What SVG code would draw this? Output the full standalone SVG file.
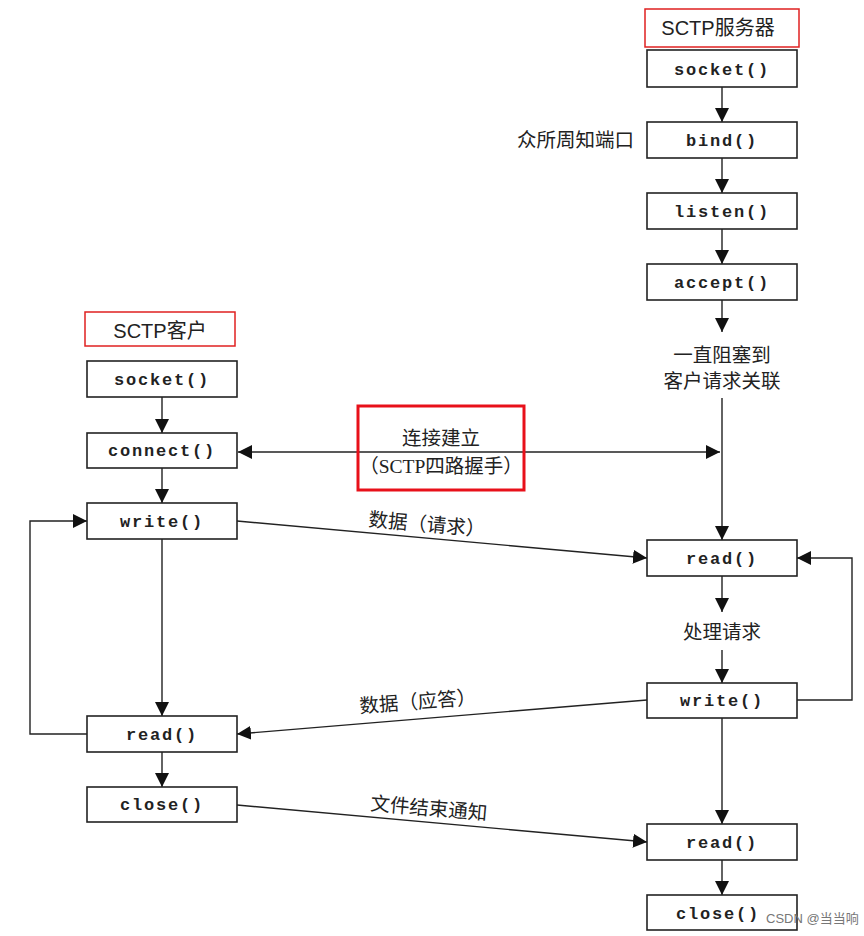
<svg xmlns="http://www.w3.org/2000/svg" width="864" height="936" viewBox="0 0 864 936">
<defs>
<marker id="ah" viewBox="0 0 10 10" refX="10" refY="5" markerWidth="14" markerHeight="14" markerUnits="userSpaceOnUse" orient="auto-start-reverse">
<path d="M0,0 L10,5 L0,10 z" fill="#111"/>
</marker>
</defs>
<style>
.box{fill:#fff;stroke:#222;stroke-width:1.6}
.fn{font-family:"Liberation Mono",monospace;font-weight:bold;font-size:17px;fill:#222;text-anchor:middle;letter-spacing:1.8px}
.hdr{fill:#fff;stroke:#e02020;stroke-width:1.5}
.ht{font-family:"Liberation Sans","Noto Sans CJK SC",sans-serif;font-size:20px;fill:#222;text-anchor:middle}
.cn{font-family:"Liberation Serif","Noto Sans CJK SC",serif;font-size:19.5px;fill:#222}
.ln{fill:none;stroke:#222;stroke-width:1.4}
.wm{font-family:"Liberation Sans","Noto Sans CJK SC",sans-serif;font-size:13px;fill:#777}
</style>
<rect width="864" height="936" fill="#fff"/>

<g id="connectors">
<line class="ln" x1="722" y1="87" x2="722" y2="122" marker-end="url(#ah)"/>
<line class="ln" x1="722" y1="158" x2="722" y2="193" marker-end="url(#ah)"/>
<line class="ln" x1="722" y1="229" x2="722" y2="264" marker-end="url(#ah)"/>
<line class="ln" x1="722" y1="300" x2="722" y2="332" marker-end="url(#ah)"/>
<line class="ln" x1="722" y1="398" x2="722" y2="540" marker-end="url(#ah)"/>
<line class="ln" x1="722" y1="576" x2="722" y2="612" marker-end="url(#ah)"/>
<line class="ln" x1="722" y1="650" x2="722" y2="683" marker-end="url(#ah)"/>
<line class="ln" x1="722" y1="718" x2="722" y2="824" marker-end="url(#ah)"/>
<line class="ln" x1="722" y1="860" x2="722" y2="895" marker-end="url(#ah)"/>
<line class="ln" x1="162" y1="397" x2="162" y2="433" marker-end="url(#ah)"/>
<line class="ln" x1="162" y1="468" x2="162" y2="503" marker-end="url(#ah)"/>
<line class="ln" x1="162" y1="539" x2="162" y2="716" marker-end="url(#ah)"/>
<line class="ln" x1="162" y1="752" x2="162" y2="787" marker-end="url(#ah)"/>
<line class="ln" x1="238" y1="452" x2="720" y2="452" marker-start="url(#ah)" marker-end="url(#ah)"/>
<line class="ln" x1="237" y1="521" x2="647" y2="558" marker-end="url(#ah)"/>
<line class="ln" x1="647" y1="700" x2="237" y2="734" marker-end="url(#ah)"/>
<line class="ln" x1="237" y1="805" x2="647" y2="842" marker-end="url(#ah)"/>
<polyline class="ln" points="87,734 30,734 30,521 87,521" marker-end="url(#ah)"/>
<polyline class="ln" points="797,700 852,700 852,558 797,558" marker-end="url(#ah)"/>
</g>

<g id="server-header"><rect class="hdr" x="645" y="9" width="154" height="38"/><text class="ht" x="718" y="35">SCTP服务器</text></g>
<g id="s-socket"><rect class="box" x="647" y="50" width="150" height="37"/><text class="fn" x="722" y="75">socket()</text></g>
<g id="s-bind"><rect class="box" x="647" y="122" width="150" height="36"/><text class="fn" x="722" y="146">bind()</text></g>
<g id="s-listen"><rect class="box" x="647" y="193" width="150" height="36"/><text class="fn" x="722" y="217">listen()</text></g>
<g id="s-accept"><rect class="box" x="647" y="264" width="150" height="36"/><text class="fn" x="722" y="288">accept()</text></g>
<g id="s-read1"><rect class="box" x="647" y="540" width="150" height="36"/><text class="fn" x="722" y="564">read()</text></g>
<g id="s-write"><rect class="box" x="647" y="683" width="150" height="35"/><text class="fn" x="722" y="706">write()</text></g>
<g id="s-read2"><rect class="box" x="647" y="824" width="150" height="36"/><text class="fn" x="722" y="848">read()</text></g>
<g id="s-close"><rect class="box" x="647" y="895" width="150" height="35"/><text class="fn" x="718" y="919">close()</text></g>

<g id="client-header"><rect class="hdr" x="85" y="312" width="150" height="34"/><text class="ht" x="160" y="338">SCTP客户</text></g>
<g id="c-socket"><rect class="box" x="87" y="361" width="150" height="36"/><text class="fn" x="162" y="385">socket()</text></g>
<g id="c-connect"><rect class="box" x="87" y="433" width="150" height="35"/><text class="fn" x="162" y="456">connect()</text></g>
<g id="c-write"><rect class="box" x="87" y="503" width="150" height="36"/><text class="fn" x="162" y="527">write()</text></g>
<g id="c-read"><rect class="box" x="87" y="716" width="150" height="36"/><text class="fn" x="162" y="740">read()</text></g>
<g id="c-close"><rect class="box" x="87" y="787" width="150" height="35"/><text class="fn" x="162" y="810">close()</text></g>

<g id="labels">
<text class="cn" x="517" y="147">众所周知端口</text>
<text class="cn" x="722" y="362" text-anchor="middle">一直阻塞到</text>
<text class="cn" x="722" y="388" text-anchor="middle">客户请求关联</text>
<text class="cn" x="722" y="639" text-anchor="middle">处理请求</text>
<text class="cn" x="368" y="526" transform="rotate(5 368 526)">数据（请求）</text>
<text class="cn" x="360" y="713" transform="rotate(-4.5 360 713)">数据（应答）</text>
<text class="cn" x="370" y="810" transform="rotate(5 370 810)">文件结束通知</text>
</g>

<g id="handshake">
<rect x="358" y="406" width="166" height="84" fill="none" stroke="#e8101a" stroke-width="3"/>
<text class="cn" x="441" y="445" text-anchor="middle">连接建立</text>
<text class="cn" x="441" y="473" text-anchor="middle">（SCTP四路握手）</text>
</g>

<text class="wm" x="766" y="923">CSDN @当当响</text>
</svg>
